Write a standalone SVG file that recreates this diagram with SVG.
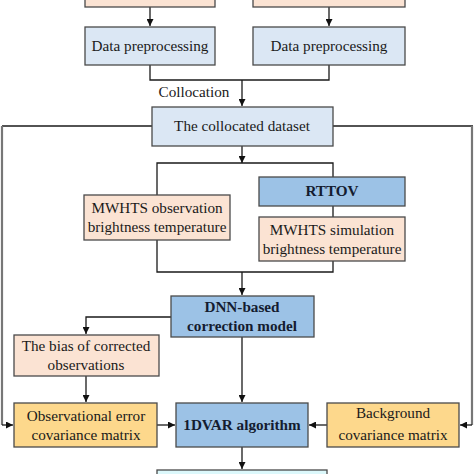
<svg xmlns="http://www.w3.org/2000/svg" width="474" height="474" viewBox="0 0 474 474">
<defs>
<marker id="ah" viewBox="0 0 10 10" refX="10" refY="5" markerWidth="7" markerHeight="7" markerUnits="userSpaceOnUse" orient="auto">
<path d="M0,0 L10,5 L0,10 z" fill="#111"/>
</marker>
<style>
.box{stroke:#4a4a4a;stroke-width:1.3}
.org{fill:#fbe3d3}
.lb{fill:#dbe7f4}
.mb{fill:#9cc2e6}
.yl{fill:#fdd88c}
.cy{fill:#dcf8fb}
.t{font-family:"Liberation Serif","Times New Roman",serif;font-size:15.2px;fill:#1a1a1a;text-anchor:middle}
.b{font-weight:bold;fill:#141c30}
.c{fill:none;stroke:#1a1a1a;stroke-width:1.3}
.g{fill:none;stroke:#777;stroke-width:2.2}
</style>
</defs>
<rect width="474" height="474" fill="#fff"/>
<g id="connectors">
<path class="c" d="M150,7 V26" marker-end="url(#ah)"/>
<path class="c" d="M329,7 V26" marker-end="url(#ah)"/>
<path class="c" d="M150,65 V80 H329 V65"/>
<path class="c" d="M242,80 V106" marker-end="url(#ah)"/>
<path class="c" d="M242,146 V163" marker-end="url(#ah)"/>
<path class="c" d="M157,195 V163 H333 V177"/>
<path class="c" d="M333,206 V217"/>
<path class="c" d="M157,240 V272 H333 V261"/>
<path class="c" d="M242,272 V295" marker-end="url(#ah)"/>
<path class="c" d="M171,317 H86 V334" marker-end="url(#ah)"/>
<path class="c" d="M86,376 V402" marker-end="url(#ah)"/>
<path class="c" d="M242,337 V402" marker-end="url(#ah)"/>
<path class="c" d="M157,425 H175" marker-end="url(#ah)"/>
<path class="c" d="M327,425 H309" marker-end="url(#ah)"/>
<path class="c" d="M242,447 V469" marker-end="url(#ah)"/>
<path class="c" d="M152,126 H2"/>
<path class="g" d="M2,126 V425"/>
<path class="c" d="M2,425 H13" marker-end="url(#ah)"/>
<path class="c" d="M333,126 H473"/>
<path class="g" d="M472,126 V425"/>
<path class="c" d="M472,425 H460" marker-end="url(#ah)"/>
</g>
<g id="top-left"><rect class="box org" x="85" y="-10" width="130" height="17"/></g>
<g id="top-right"><rect class="box org" x="253" y="-10" width="152" height="17"/></g>
<g id="prep-left"><rect class="box lb" x="85" y="27" width="130" height="38"/><text class="t" x="150" y="51">Data preprocessing</text></g>
<g id="prep-right"><rect class="box lb" x="253" y="27" width="152" height="38"/><text class="t" x="329" y="51">Data preprocessing</text></g>
<g id="collocation-label"><text class="t" x="194" y="97">Collocation</text></g>
<g id="collocated"><rect class="box lb" x="152" y="107" width="181" height="39"/><text class="t" x="242" y="131">The collocated dataset</text></g>
<g id="mwhts-obs"><rect class="box org" x="84" y="195" width="146" height="45"/><text class="t" x="157" y="213">MWHTS observation</text><text class="t" x="157" y="232">brightness temperature</text></g>
<g id="rttov"><rect class="box mb" x="259" y="177" width="146" height="29"/><text class="t b" x="332" y="196">RTTOV</text></g>
<g id="mwhts-sim"><rect class="box org" x="259" y="217" width="146" height="44"/><text class="t" x="332" y="235">MWHTS simulation</text><text class="t" x="332" y="254">brightness temperature</text></g>
<g id="dnn"><rect class="box mb" x="171" y="296" width="143" height="41"/><text class="t b" x="242" y="312">DNN-based</text><text class="t b" x="242" y="331">correction model</text></g>
<g id="bias"><rect class="box org" x="14" y="335" width="145" height="41"/><text class="t" x="86" y="351">The bias of corrected</text><text class="t" x="86" y="370">observations</text></g>
<g id="obs-error"><rect class="box yl" x="14" y="403" width="143" height="44"/><text class="t" x="86" y="421">Observational error</text><text class="t" x="86" y="440">covariance matrix</text></g>
<g id="onedvar"><rect class="box mb" x="176" y="403" width="132" height="44"/><text class="t b" x="242" y="430">1DVAR algorithm</text></g>
<g id="background"><rect class="box yl" x="327" y="403" width="132" height="44"/><text class="t" x="393" y="418">Background</text><text class="t" x="393" y="440">covariance matrix</text></g>
<g id="bottom"><rect class="box cy" x="157" y="470" width="170" height="20"/></g>
</svg>
